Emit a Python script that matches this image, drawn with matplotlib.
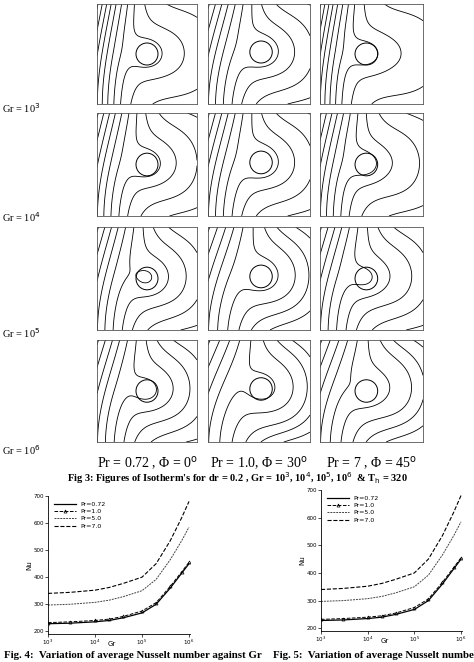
import numpy as np
import matplotlib
matplotlib.use("Agg")
import matplotlib.pyplot as plt
from matplotlib.patches import Circle

W, H = 474, 662
fig = plt.figure(figsize=(W/100, H/100), dpi=100)

def ax_px(x0, y0, x1, y1):
    return fig.add_axes([x0/W, 1-y1/H, (x1-x0)/W, (y1-y0)/H])

gr_labels = ["Gr = 10$^3$", "Gr = 10$^4$", "Gr = 10$^5$", "Gr = 10$^6$"]
gr_label_y = [108, 217, 333, 450]
col_labels = ["Pr = 0.72 , Φ = 0$^\\mathrm{o}$", "Pr = 1.0, Φ = 30$^\\mathrm{o}$", "Pr = 7 , Φ = 45$^\\mathrm{o}$"]
col_x = [(97, 197), (208, 310), (320, 423)]
row_y = [(4, 104), (113, 216), (227, 330), (340, 442)]
cyl = [(0.5, 0.5), (0.52, 0.52), (0.45, 0.5)]
iso_levels = [0.22, 0.26, 0.3, 0.34, 0.39, 0.45, 0.52, 0.6, 0.7, 0.82]
strength = [[1.0, 1.4, 0.9], [1.3, 1.4, 1.2], [1.5, 1.8, 1.5], [1.6, 2.2, 1.9]]

gx, gy = np.meshgrid(np.linspace(0, 1, 120), np.linspace(0, 1, 120))
for r, (y0, y1) in enumerate(row_y):
    for c, (x0, x1) in enumerate(col_x):
        ax = ax_px(x0, y0, x1, y1)
        cx, cy = cyl[c]
        s = strength[r][c]
        d = np.hypot(gx-cx, gy-cy)
        field = (0.2 + 0.65*np.exp(-gx*5/s)*(0.5+0.5*gy**2)
                 + 0.06*np.exp(-d**2/0.03)
                 + 0.06*s*np.sin(np.pi*gy)*np.exp(-((gx-0.75)**2)/0.15))
        ax.contour(gx, gy, field, levels=iso_levels, colors="k", linewidths=0.6)
        ax.add_patch(Circle((cx, cy), 0.11, fill=False, lw=0.7, color="k"))
        ax.set_xlim(0, 1); ax.set_ylim(0, 1)
        ax.set_xticks([]); ax.set_yticks([])
        for sp in ax.spines.values():
            sp.set_linewidth(0.6); sp.set_color("#555")
for lab, y in zip(gr_labels, gr_label_y):
    fig.text(2/W, 1-y/H, lab, fontsize=7.5, family="Liberation Serif", va="center")
for lab, (x0, x1) in zip(col_labels, col_x):
    fig.text((x0+x1)/2/W, 1-463/H, lab, fontsize=10, family="Liberation Serif", ha="center", va="center")
fig.text(237/W, 1-478/H, "Fig 3: Figures of Isotherm's for dr = 0.2 , Gr = 10$^3$, 10$^4$, 10$^5$, 10$^6$  & T$_\\mathrm{h}$ = 320",
         fontsize=7.5, family="Liberation Serif", weight="bold", ha="center", va="center")

# Nusselt data
gr = [1e3, 1e4, 1e5, 1e6]
gr_fine = [1e3, 3e3, 1e4, 2e4, 4e4, 1e5, 2e5, 4e5, 7e5, 1e6]
nu_072 = [228, 230, 235, 240, 250, 268, 300, 360, 415, 450]
nu_10 = [232, 235, 240, 245, 255, 275, 306, 366, 420, 455]
nu_50 = [297, 300, 307, 315, 328, 350, 392, 465, 535, 585]
nu_70 = [340, 344, 352, 362, 377, 400, 450, 535, 620, 680]

def nu_plot(x0, y0, x1, y1):
    ax = ax_px(x0, y0, x1, y1)
    ax.plot(gr_fine, nu_072, "k-", lw=0.9, label="Pr=0.72")
    ax.plot(gr_fine, nu_10, "k--", lw=0.7, marker="^", ms=2.2, mfc="none", mew=0.5, label="Pr=1.0")
    ax.plot(gr_fine, nu_50, color="#444", ls=(0, (2, 1)), lw=0.7, label="Pr=5.0")
    ax.plot(gr_fine, nu_70, "k--", lw=0.8, label="Pr=7.0")
    ax.set_xscale("log")
    ax.set_xlim(1e3, 1.05e6); ax.set_ylim(190, 700)
    ax.set_xticks(gr); ax.set_xticklabels(["10$^3$", "10$^4$", "10$^5$", "10$^6$"])
    ax.minorticks_off()
    ax.set_yticks([200, 300, 400, 500, 600, 700])
    ax.tick_params(labelsize=4, length=2, width=0.5, pad=1)
    ax.set_xlabel("Gr", fontsize=5)
    ax.xaxis.set_label_coords(0.45, -0.05)
    ax.set_ylabel("Nu", fontsize=5, labelpad=1)
    for sp in ["top", "right"]:
        ax.spines[sp].set_visible(False)
    for sp in ["left", "bottom"]:
        ax.spines[sp].set_linewidth(0.6)
    ax.legend(loc="upper left", fontsize=4.5, frameon=False, handlelength=3.5, labelspacing=0.3)
    return ax

nu_plot(48, 496, 190, 634)
nu_plot(321, 490, 462, 631)
fig.text(4/W, 1-655/H, "Fig. 4:  Variation of average Nusselt number against Gr", fontsize=7.8,
         family="Liberation Serif", weight="bold", va="center")
fig.text(273/W, 1-655/H, "Fig. 5:  Variation of average Nusselt numbe", fontsize=7.8,
         family="Liberation Serif", weight="bold", va="center")

fig.savefig("out.png", dpi=100)
